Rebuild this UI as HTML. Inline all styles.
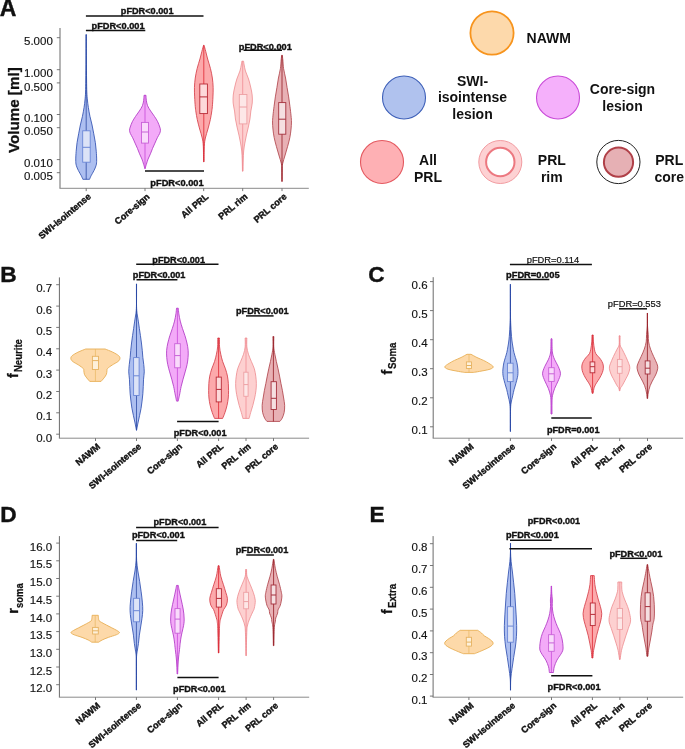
<!DOCTYPE html>
<html><head><meta charset="utf-8"><title>Figure</title>
<style>
html,body{margin:0;padding:0;background:#fff;}
body{width:685px;height:749px;overflow:hidden;}
svg{display:block;filter:blur(0.3px);}
svg text{font-family:'Liberation Sans', Arial, Helvetica, sans-serif;fill:#111;}
</style></head><body>
<svg width="685" height="749" viewBox="0 0 685 749">
<rect width="685" height="749" fill="#fff"/>
<text x="-0.3" y="15.8" font-size="23" font-weight="bold" text-anchor="start" stroke="#111" stroke-width="0.4">A</text>
<line x1="60" y1="28" x2="60" y2="188.3" stroke="#6a6a6a" stroke-width="1"/>
<line x1="59.5" y1="188.3" x2="308.8" y2="188.3" stroke="#8a8a8a" stroke-width="1"/>
<line x1="56.8" y1="37.7" x2="60" y2="37.7" stroke="#6a6a6a" stroke-width="0.9"/>
<text x="52.8" y="45.3" font-size="11.5" text-anchor="end" fill="#161616" stroke="#161616" stroke-width="0.15">5.000</text>
<line x1="56.8" y1="69.7" x2="60" y2="69.7" stroke="#6a6a6a" stroke-width="0.9"/>
<text x="52.8" y="77.3" font-size="11.5" text-anchor="end" fill="#161616" stroke="#161616" stroke-width="0.15">1.000</text>
<line x1="56.8" y1="82.9" x2="60" y2="82.9" stroke="#6a6a6a" stroke-width="0.9"/>
<text x="52.8" y="90.5" font-size="11.5" text-anchor="end" fill="#161616" stroke="#161616" stroke-width="0.15">0.500</text>
<line x1="56.8" y1="114.5" x2="60" y2="114.5" stroke="#6a6a6a" stroke-width="0.9"/>
<text x="52.8" y="122.1" font-size="11.5" text-anchor="end" fill="#161616" stroke="#161616" stroke-width="0.15">0.100</text>
<line x1="56.8" y1="127.7" x2="60" y2="127.7" stroke="#6a6a6a" stroke-width="0.9"/>
<text x="52.8" y="135.3" font-size="11.5" text-anchor="end" fill="#161616" stroke="#161616" stroke-width="0.15">0.050</text>
<line x1="56.8" y1="159.6" x2="60" y2="159.6" stroke="#6a6a6a" stroke-width="0.9"/>
<text x="52.8" y="167.2" font-size="11.5" text-anchor="end" fill="#161616" stroke="#161616" stroke-width="0.15">0.010</text>
<line x1="56.8" y1="172.7" x2="60" y2="172.7" stroke="#6a6a6a" stroke-width="0.9"/>
<text x="52.8" y="180.3" font-size="11.5" text-anchor="end" fill="#161616" stroke="#161616" stroke-width="0.15">0.005</text>
<line x1="86.2" y1="188.3" x2="86.2" y2="191.1" stroke="#6a6a6a" stroke-width="0.9"/>
<line x1="145" y1="188.3" x2="145" y2="191.1" stroke="#6a6a6a" stroke-width="0.9"/>
<line x1="203.7" y1="188.3" x2="203.7" y2="191.1" stroke="#6a6a6a" stroke-width="0.9"/>
<line x1="242.7" y1="188.3" x2="242.7" y2="191.1" stroke="#6a6a6a" stroke-width="0.9"/>
<line x1="282" y1="188.3" x2="282" y2="191.1" stroke="#6a6a6a" stroke-width="0.9"/>
<text x="91.6" y="197.6" font-size="9.1" font-weight="bold" stroke="#111" stroke-width="0.4" text-anchor="end" transform="rotate(-40 91.6 197.6)">SWI-isointense</text>
<text x="150.4" y="197.6" font-size="9.1" font-weight="bold" stroke="#111" stroke-width="0.4" text-anchor="end" transform="rotate(-40 150.4 197.6)">Core-sign</text>
<text x="209.1" y="197.6" font-size="9.1" font-weight="bold" stroke="#111" stroke-width="0.4" text-anchor="end" transform="rotate(-40 209.1 197.6)">All PRL</text>
<text x="248.1" y="197.6" font-size="9.1" font-weight="bold" stroke="#111" stroke-width="0.4" text-anchor="end" transform="rotate(-40 248.1 197.6)">PRL rim</text>
<text x="287.4" y="197.6" font-size="9.1" font-weight="bold" stroke="#111" stroke-width="0.4" text-anchor="end" transform="rotate(-40 287.4 197.6)">PRL core</text>
<text x="18.8" y="110.2" font-size="15.2" font-weight="bold" stroke="#111" stroke-width="0.3" text-anchor="middle" transform="rotate(-90 18.8 110.2)">Volume [ml]</text>
<path d="M86.15 34.5 L86.25 34.5 C86.25 36.25 86.23 40.75 86.25 45 C86.27 49.25 86.3 54.17 86.35 60 C86.4 65.83 86.49 74.67 86.57 80 C86.65 85.33 86.67 88.67 86.81 92 C86.95 95.33 87.15 97.42 87.41 100 C87.67 102.58 87.93 104.78 88.35 107.5 C88.77 110.22 89.33 113.38 89.95 116.3 C90.57 119.22 91.42 122.08 92.05 125 C92.68 127.92 93.2 130.87 93.75 133.8 C94.3 136.73 94.93 139.68 95.35 142.6 C95.77 145.52 96.03 148.4 96.25 151.3 C96.47 154.2 96.67 157.67 96.65 160 C96.63 162.33 96.6 163.53 96.15 165.3 C95.7 167.07 94.8 168.85 93.95 170.6 C93.1 172.35 91.78 174.35 91.05 175.8 C90.32 177.25 89.8 178.72 89.55 179.3 L82.85 179.3 C82.6 178.72 82.08 177.25 81.35 175.8 C80.62 174.35 79.3 172.35 78.45 170.6 C77.6 168.85 76.7 167.07 76.25 165.3 C75.8 163.53 75.77 162.33 75.75 160 C75.73 157.67 75.93 154.2 76.15 151.3 C76.37 148.4 76.63 145.52 77.05 142.6 C77.47 139.68 78.1 136.73 78.65 133.8 C79.2 130.87 79.72 127.92 80.35 125 C80.98 122.08 81.83 119.22 82.45 116.3 C83.07 113.38 83.63 110.22 84.05 107.5 C84.47 104.78 84.73 102.58 84.99 100 C85.25 97.42 85.45 95.33 85.59 92 C85.73 88.67 85.75 85.33 85.83 80 C85.91 74.67 86 65.83 86.05 60 C86.1 54.17 86.13 49.25 86.15 45 C86.17 40.75 86.15 36.25 86.15 34.5 Z" fill="#adbff0" stroke="#3050b0" stroke-width="0.85" stroke-linejoin="round"/>
<line x1="86.2" y1="34.5" x2="86.2" y2="179.3" stroke="#2644a0" stroke-width="0.75"/>
<rect x="82.7" y="130.8" width="7.5" height="31.4" fill="#dce3f7" stroke="#6a86d6" stroke-width="0.9"/>
<line x1="82.7" y1="147.3" x2="90.2" y2="147.3" stroke="#6a86d6" stroke-width="1"/>
<path d="M144.03 95.3 L145.97 95.3 C146.03 96.13 146.07 98.57 146.33 100.3 C146.59 102.03 146.83 103.92 147.55 105.7 C148.27 107.48 149.5 109.22 150.65 111 C151.8 112.78 153.28 114.62 154.45 116.4 C155.62 118.18 156.77 119.93 157.65 121.7 C158.53 123.47 159.28 125.57 159.75 127 C160.22 128.43 160.47 129.22 160.45 130.3 C160.43 131.38 160.17 132.27 159.65 133.5 C159.13 134.73 158.13 136.1 157.35 137.7 C156.57 139.3 155.75 141.32 154.95 143.1 C154.15 144.88 153.3 146.62 152.55 148.4 C151.8 150.18 151.2 152.02 150.45 153.8 C149.7 155.58 148.74 157.33 148.05 159.1 C147.36 160.87 146.83 162.8 146.33 164.4 C145.83 166 145.26 167.98 145.05 168.7 L144.95 168.7 C144.74 167.98 144.17 166 143.67 164.4 C143.17 162.8 142.64 160.87 141.95 159.1 C141.26 157.33 140.3 155.58 139.55 153.8 C138.8 152.02 138.2 150.18 137.45 148.4 C136.7 146.62 135.85 144.88 135.05 143.1 C134.25 141.32 133.43 139.3 132.65 137.7 C131.87 136.1 130.87 134.73 130.35 133.5 C129.83 132.27 129.57 131.38 129.55 130.3 C129.53 129.22 129.78 128.43 130.25 127 C130.72 125.57 131.47 123.47 132.35 121.7 C133.23 119.93 134.38 118.18 135.55 116.4 C136.72 114.62 138.2 112.78 139.35 111 C140.5 109.22 141.73 107.48 142.45 105.7 C143.17 103.92 143.41 102.03 143.67 100.3 C143.93 98.57 143.97 96.13 144.03 95.3 Z" fill="#f3aaf8" stroke="#b038c4" stroke-width="0.85" stroke-linejoin="round"/>
<line x1="145" y1="95.3" x2="145" y2="168.7" stroke="#c444d6" stroke-width="0.75"/>
<rect x="141.5" y="122.4" width="7" height="20.7" fill="#f9dafb" stroke="#c860d8" stroke-width="0.9"/>
<line x1="141.5" y1="132" x2="148.5" y2="132" stroke="#c860d8" stroke-width="1"/>
<path d="M203.55 45.3 L204.05 45.3 C204.33 46.32 205.13 49.12 205.73 51.4 C206.33 53.68 206.86 56.15 207.65 59 C208.44 61.85 209.67 65.33 210.45 68.5 C211.23 71.67 211.9 74.85 212.35 78 C212.8 81.15 213.05 84.25 213.15 87.4 C213.25 90.55 213.08 93.73 212.95 96.9 C212.82 100.07 212.57 103.88 212.35 106.4 C212.13 108.92 211.98 109.82 211.65 112 C211.32 114.18 210.97 116.67 210.35 119.5 C209.73 122.33 208.78 125.92 207.95 129 C207.12 132.08 205.98 135.12 205.37 138 C204.76 140.88 204.51 142.33 204.29 146.3 C204.07 150.27 204.09 159.22 204.05 161.8 L203.55 161.8 C203.51 159.22 203.53 150.27 203.31 146.3 C203.09 142.33 202.84 140.88 202.23 138 C201.62 135.12 200.48 132.08 199.65 129 C198.82 125.92 197.87 122.33 197.25 119.5 C196.63 116.67 196.28 114.18 195.95 112 C195.62 109.82 195.47 108.92 195.25 106.4 C195.03 103.88 194.78 100.07 194.65 96.9 C194.52 93.73 194.35 90.55 194.45 87.4 C194.55 84.25 194.8 81.15 195.25 78 C195.7 74.85 196.37 71.67 197.15 68.5 C197.93 65.33 199.16 61.85 199.95 59 C200.74 56.15 201.27 53.68 201.87 51.4 C202.47 49.12 203.27 46.32 203.55 45.3 Z" fill="#fca9ab" stroke="#d63f49" stroke-width="0.85" stroke-linejoin="round"/>
<line x1="203.8" y1="45.3" x2="203.8" y2="161.8" stroke="#dc1c2a" stroke-width="0.75"/>
<rect x="199.8" y="84" width="7.6" height="29.6" fill="#fdd9da" stroke="#b82a36" stroke-width="0.9"/>
<line x1="199.8" y1="96.9" x2="207.4" y2="96.9" stroke="#b82a36" stroke-width="1"/>
<path d="M241.85 61.2 L243.55 61.2 C243.65 61.83 243.83 63.37 244.15 65 C244.47 66.63 244.72 68.67 245.45 71 C246.18 73.33 247.68 76.33 248.55 79 C249.42 81.67 250.05 84.33 250.65 87 C251.25 89.67 251.88 92.33 252.15 95 C252.42 97.67 252.47 100.33 252.25 103 C252.03 105.67 251.23 108.33 250.85 111 C250.47 113.67 250.37 116.33 249.95 119 C249.53 121.67 248.93 124.33 248.35 127 C247.77 129.67 247.03 132.33 246.45 135 C245.87 137.67 245.31 140.33 244.85 143 C244.39 145.67 243.95 148.17 243.67 151 C243.39 153.83 243.31 156.63 243.19 160 C243.07 163.37 242.99 169.33 242.95 171.2 L242.45 171.2 C242.41 169.33 242.33 163.37 242.21 160 C242.09 156.63 242.01 153.83 241.73 151 C241.45 148.17 241.01 145.67 240.55 143 C240.09 140.33 239.53 137.67 238.95 135 C238.37 132.33 237.63 129.67 237.05 127 C236.47 124.33 235.87 121.67 235.45 119 C235.03 116.33 234.93 113.67 234.55 111 C234.17 108.33 233.37 105.67 233.15 103 C232.93 100.33 232.98 97.67 233.25 95 C233.52 92.33 234.15 89.67 234.75 87 C235.35 84.33 235.98 81.67 236.85 79 C237.72 76.33 239.22 73.33 239.95 71 C240.68 68.67 240.93 66.63 241.25 65 C241.57 63.37 241.75 61.83 241.85 61.2 Z" fill="#fdd0d0" stroke="#ee9094" stroke-width="0.85" stroke-linejoin="round"/>
<line x1="242.7" y1="61.2" x2="242.7" y2="171.2" stroke="#f08890" stroke-width="0.75"/>
<rect x="239.3" y="94.5" width="7.6" height="29.4" fill="#fde7e7" stroke="#eda0a4" stroke-width="0.9"/>
<line x1="239.3" y1="107" x2="246.9" y2="107" stroke="#eda0a4" stroke-width="1"/>
<path d="M281.75 55.2 L282.25 55.2 C282.35 56 282.63 57.78 282.85 60 C283.07 62.22 283.12 65.5 283.57 68.5 C284.02 71.5 284.97 74.85 285.55 78 C286.13 81.15 286.53 84.25 287.05 87.4 C287.57 90.55 288.17 93.73 288.65 96.9 C289.13 100.07 289.55 103.23 289.95 106.4 C290.35 109.57 290.8 113.3 291.05 115.9 C291.3 118.5 291.45 119.82 291.45 122 C291.45 124.18 291.32 126.42 291.05 129 C290.78 131.58 290.42 134.62 289.85 137.5 C289.28 140.38 288.43 143.38 287.65 146.3 C286.87 149.22 285.99 152.08 285.15 155 C284.31 157.92 283.09 161.3 282.61 163.8 C282.13 166.3 282.33 167.05 282.25 170 C282.17 172.95 282.17 179.58 282.15 181.5 L281.85 181.5 C281.83 179.58 281.83 172.95 281.75 170 C281.67 167.05 281.87 166.3 281.39 163.8 C280.91 161.3 279.69 157.92 278.85 155 C278.01 152.08 277.13 149.22 276.35 146.3 C275.57 143.38 274.72 140.38 274.15 137.5 C273.58 134.62 273.22 131.58 272.95 129 C272.68 126.42 272.55 124.18 272.55 122 C272.55 119.82 272.7 118.5 272.95 115.9 C273.2 113.3 273.65 109.57 274.05 106.4 C274.45 103.23 274.87 100.07 275.35 96.9 C275.83 93.73 276.43 90.55 276.95 87.4 C277.47 84.25 277.87 81.15 278.45 78 C279.03 74.85 279.98 71.5 280.43 68.5 C280.88 65.5 280.93 62.22 281.15 60 C281.37 57.78 281.65 56 281.75 55.2 Z" fill="#e8b1b5" stroke="#b0444c" stroke-width="0.85" stroke-linejoin="round"/>
<line x1="282" y1="55.2" x2="282" y2="181.5" stroke="#8e1018" stroke-width="0.75"/>
<rect x="278.7" y="102.6" width="7.1" height="31.6" fill="#f5dfe1" stroke="#a4303c" stroke-width="0.9"/>
<line x1="278.7" y1="119.2" x2="285.8" y2="119.2" stroke="#a4303c" stroke-width="1"/>
<line x1="85.9" y1="16" x2="203.5" y2="16" stroke="#111111" stroke-width="1.5"/>
<text x="120.8" y="14.4" font-size="8.7" font-weight="bold" stroke="#111" stroke-width="0.35" textLength="52.7" lengthAdjust="spacingAndGlyphs">pFDR&lt;0.001</text>
<line x1="85.9" y1="30.6" x2="145.3" y2="30.6" stroke="#111111" stroke-width="1.5"/>
<text x="91.5" y="28.9" font-size="8.7" font-weight="bold" stroke="#111" stroke-width="0.35" textLength="53.1" lengthAdjust="spacingAndGlyphs">pFDR&lt;0.001</text>
<line x1="243.5" y1="50.2" x2="282" y2="50.2" stroke="#111111" stroke-width="1.5"/>
<text x="238.8" y="49.5" font-size="8.7" font-weight="bold" stroke="#111" stroke-width="0.35" textLength="53" lengthAdjust="spacingAndGlyphs">pFDR&lt;0.001</text>
<line x1="145" y1="170.9" x2="204" y2="170.9" stroke="#111111" stroke-width="1.5"/>
<text x="150.3" y="185.5" font-size="8.7" font-weight="bold" stroke="#111" stroke-width="0.35" textLength="53.4" lengthAdjust="spacingAndGlyphs">pFDR&lt;0.001</text>
<circle cx="492" cy="33" r="21.6" fill="#fdd9ab" stroke="#f7941d" stroke-width="1.8"/>
<text x="526.6" y="43.3" font-size="14" font-weight="bold" text-anchor="start">NAWM</text>
<circle cx="404" cy="97.5" r="21.5" fill="#b0c2ee" stroke="#3d5fb8" stroke-width="1.1"/>
<text x="472.5" y="85.8" font-size="14" font-weight="bold" text-anchor="middle">SWI-</text>
<text x="472.5" y="102.3" font-size="14" font-weight="bold" text-anchor="middle">isointense</text>
<text x="472.5" y="119" font-size="14" font-weight="bold" text-anchor="middle">lesion</text>
<circle cx="558" cy="97.5" r="21.5" fill="#f5b0fb" stroke="#c94ad8" stroke-width="1.1"/>
<text x="622.5" y="94.4" font-size="14" font-weight="bold" text-anchor="middle">Core-sign</text>
<text x="622.5" y="110.8" font-size="14" font-weight="bold" text-anchor="middle">lesion</text>
<circle cx="382" cy="162" r="21.5" fill="#feb0b4" stroke="#e4585f" stroke-width="1.1"/>
<text x="428" y="165" font-size="14" font-weight="bold" text-anchor="middle">All</text>
<text x="428" y="181.9" font-size="14" font-weight="bold" text-anchor="middle">PRL</text>
<circle cx="500.3" cy="162" r="21.5" fill="#fdd1d3" stroke="#f29ba0" stroke-width="1"/>
<circle cx="500.3" cy="162" r="14.2" fill="#ffffff" stroke="#ec7880" stroke-width="2"/>
<text x="551.8" y="165" font-size="14" font-weight="bold" text-anchor="middle">PRL</text>
<text x="551.8" y="181.9" font-size="14" font-weight="bold" text-anchor="middle">rim</text>
<circle cx="618.4" cy="162" r="21.6" fill="#ffffff" stroke="#222222" stroke-width="1"/>
<circle cx="618.5" cy="162.2" r="14.6" fill="#e6b0b4" stroke="#b04048" stroke-width="2"/>
<text x="669.2" y="165" font-size="14" font-weight="bold" text-anchor="middle">PRL</text>
<text x="669.2" y="182" font-size="14" font-weight="bold" text-anchor="middle">core</text>
<text x="0.3" y="281.9" font-size="22.7" font-weight="bold" text-anchor="start" stroke="#111" stroke-width="0.4">B</text>
<line x1="59.4" y1="277.4" x2="59.4" y2="438.2" stroke="#6a6a6a" stroke-width="1"/>
<line x1="58.9" y1="438.2" x2="309.1" y2="438.2" stroke="#8a8a8a" stroke-width="1"/>
<line x1="56.2" y1="284.7" x2="59.4" y2="284.7" stroke="#6a6a6a" stroke-width="0.9"/>
<text x="52.2" y="292.3" font-size="11.5" text-anchor="end" fill="#161616" stroke="#161616" stroke-width="0.15">0.7</text>
<line x1="56.2" y1="306.1" x2="59.4" y2="306.1" stroke="#6a6a6a" stroke-width="0.9"/>
<text x="52.2" y="313.7" font-size="11.5" text-anchor="end" fill="#161616" stroke="#161616" stroke-width="0.15">0.6</text>
<line x1="56.2" y1="327.4" x2="59.4" y2="327.4" stroke="#6a6a6a" stroke-width="0.9"/>
<text x="52.2" y="335" font-size="11.5" text-anchor="end" fill="#161616" stroke="#161616" stroke-width="0.15">0.5</text>
<line x1="56.2" y1="348.8" x2="59.4" y2="348.8" stroke="#6a6a6a" stroke-width="0.9"/>
<text x="52.2" y="356.4" font-size="11.5" text-anchor="end" fill="#161616" stroke="#161616" stroke-width="0.15">0.4</text>
<line x1="56.2" y1="370.1" x2="59.4" y2="370.1" stroke="#6a6a6a" stroke-width="0.9"/>
<text x="52.2" y="377.7" font-size="11.5" text-anchor="end" fill="#161616" stroke="#161616" stroke-width="0.15">0.3</text>
<line x1="56.2" y1="391.5" x2="59.4" y2="391.5" stroke="#6a6a6a" stroke-width="0.9"/>
<text x="52.2" y="399.1" font-size="11.5" text-anchor="end" fill="#161616" stroke="#161616" stroke-width="0.15">0.2</text>
<line x1="56.2" y1="412.8" x2="59.4" y2="412.8" stroke="#6a6a6a" stroke-width="0.9"/>
<text x="52.2" y="420.4" font-size="11.5" text-anchor="end" fill="#161616" stroke="#161616" stroke-width="0.15">0.1</text>
<line x1="56.2" y1="434.2" x2="59.4" y2="434.2" stroke="#6a6a6a" stroke-width="0.9"/>
<text x="52.2" y="441.8" font-size="11.5" text-anchor="end" fill="#161616" stroke="#161616" stroke-width="0.15">0.0</text>
<line x1="95.5" y1="438.2" x2="95.5" y2="441" stroke="#6a6a6a" stroke-width="0.9"/>
<line x1="136.5" y1="438.2" x2="136.5" y2="441" stroke="#6a6a6a" stroke-width="0.9"/>
<line x1="177.4" y1="438.2" x2="177.4" y2="441" stroke="#6a6a6a" stroke-width="0.9"/>
<line x1="218.6" y1="438.2" x2="218.6" y2="441" stroke="#6a6a6a" stroke-width="0.9"/>
<line x1="246" y1="438.2" x2="246" y2="441" stroke="#6a6a6a" stroke-width="0.9"/>
<line x1="273.5" y1="438.2" x2="273.5" y2="441" stroke="#6a6a6a" stroke-width="0.9"/>
<text x="100.9" y="447.5" font-size="9.1" font-weight="bold" stroke="#111" stroke-width="0.4" text-anchor="end" transform="rotate(-40 100.9 447.5)">NAWM</text>
<text x="141.9" y="447.5" font-size="9.1" font-weight="bold" stroke="#111" stroke-width="0.4" text-anchor="end" transform="rotate(-40 141.9 447.5)">SWI-isointense</text>
<text x="182.8" y="447.5" font-size="9.1" font-weight="bold" stroke="#111" stroke-width="0.4" text-anchor="end" transform="rotate(-40 182.8 447.5)">Core-sign</text>
<text x="224" y="447.5" font-size="9.1" font-weight="bold" stroke="#111" stroke-width="0.4" text-anchor="end" transform="rotate(-40 224 447.5)">All PRL</text>
<text x="251.4" y="447.5" font-size="9.1" font-weight="bold" stroke="#111" stroke-width="0.4" text-anchor="end" transform="rotate(-40 251.4 447.5)">PRL rim</text>
<text x="278.9" y="447.5" font-size="9.1" font-weight="bold" stroke="#111" stroke-width="0.4" text-anchor="end" transform="rotate(-40 278.9 447.5)">PRL core</text>
<text transform="translate(18.3 378) rotate(-90)" font-size="14.5" font-weight="bold" stroke="#111" stroke-width="0.3">f</text>
<text transform="translate(22.4 372.1) rotate(-90)" font-size="11" font-weight="bold" stroke="#111" stroke-width="0.25" textLength="33" lengthAdjust="spacingAndGlyphs">Neurite</text>
<path d="M85.65 349 L105.15 349 C106.43 349.53 110.6 351.08 112.85 352.2 C115.1 353.32 117.47 354.63 118.65 355.7 C119.83 356.77 120.05 357.63 119.95 358.6 C119.85 359.57 119.33 360.43 118.05 361.5 C116.77 362.57 114 363.83 112.25 365 C110.5 366.17 108.43 367.52 107.55 368.5 C106.67 369.48 107.15 369.92 106.95 370.9 C106.75 371.88 106.83 373.23 106.35 374.4 C105.87 375.57 104.93 376.73 104.05 377.9 C103.17 379.07 101.55 380.82 101.05 381.4 L89.75 381.4 C89.25 380.82 87.63 379.07 86.75 377.9 C85.87 376.73 84.93 375.57 84.45 374.4 C83.97 373.23 84.05 371.88 83.85 370.9 C83.65 369.92 84.13 369.48 83.25 368.5 C82.37 367.52 80.3 366.17 78.55 365 C76.8 363.83 74.03 362.57 72.75 361.5 C71.47 360.43 70.95 359.57 70.85 358.6 C70.75 357.63 70.97 356.77 72.15 355.7 C73.33 354.63 75.7 353.32 77.95 352.2 C80.2 351.08 84.37 349.53 85.65 349 Z" fill="#fdd9a9" stroke="#e6ab4e" stroke-width="0.85" stroke-linejoin="round"/>
<line x1="95.4" y1="349" x2="95.4" y2="381.4" stroke="#eab866" stroke-width="0.75"/>
<rect x="92.4" y="356.3" width="6.1" height="13.2" fill="#fdf0da" stroke="#e6b262" stroke-width="0.9"/>
<line x1="92.4" y1="360.6" x2="98.5" y2="360.6" stroke="#e6b262" stroke-width="1"/>
<path d="M136.45 283.9 L136.55 283.9 C136.55 285.75 136.55 291.23 136.55 295 C136.55 298.77 136.46 303.37 136.55 306.5 C136.64 309.63 136.82 311.37 137.11 313.8 C137.4 316.23 137.94 318.67 138.31 321.1 C138.68 323.53 138.99 325.97 139.35 328.4 C139.71 330.83 140.1 333.27 140.45 335.7 C140.8 338.13 141.15 340.57 141.45 343 C141.75 345.43 142.02 347.88 142.25 350.3 C142.48 352.72 142.6 355.12 142.85 357.5 C143.1 359.88 143.52 362.2 143.75 364.6 C143.98 367 144.28 369.47 144.25 371.9 C144.22 374.33 143.72 376.77 143.55 379.2 C143.38 381.63 143.37 384.07 143.25 386.5 C143.13 388.93 143.05 391.37 142.85 393.8 C142.65 396.23 142.35 398.67 142.05 401.1 C141.75 403.53 141.47 405.97 141.05 408.4 C140.63 410.83 140.07 413.27 139.55 415.7 C139.03 418.13 138.45 420.57 137.95 423 C137.45 425.43 136.78 429.08 136.55 430.3 L136.45 430.3 C136.22 429.08 135.55 425.43 135.05 423 C134.55 420.57 133.97 418.13 133.45 415.7 C132.93 413.27 132.37 410.83 131.95 408.4 C131.53 405.97 131.25 403.53 130.95 401.1 C130.65 398.67 130.35 396.23 130.15 393.8 C129.95 391.37 129.87 388.93 129.75 386.5 C129.63 384.07 129.62 381.63 129.45 379.2 C129.28 376.77 128.78 374.33 128.75 371.9 C128.72 369.47 129.02 367 129.25 364.6 C129.48 362.2 129.9 359.88 130.15 357.5 C130.4 355.12 130.52 352.72 130.75 350.3 C130.98 347.88 131.25 345.43 131.55 343 C131.85 340.57 132.2 338.13 132.55 335.7 C132.9 333.27 133.29 330.83 133.65 328.4 C134.01 325.97 134.32 323.53 134.69 321.1 C135.06 318.67 135.6 316.23 135.89 313.8 C136.18 311.37 136.36 309.63 136.45 306.5 C136.54 303.37 136.45 298.77 136.45 295 C136.45 291.23 136.45 285.75 136.45 283.9 Z" fill="#adbff0" stroke="#3050b0" stroke-width="0.85" stroke-linejoin="round"/>
<line x1="136.5" y1="283.9" x2="136.5" y2="430.3" stroke="#2644a0" stroke-width="0.75"/>
<rect x="133.6" y="357.6" width="5.5" height="37.9" fill="#dce3f7" stroke="#6a86d6" stroke-width="0.9"/>
<line x1="133.6" y1="375.8" x2="139.1" y2="375.8" stroke="#6a86d6" stroke-width="1"/>
<path d="M176.55 308.2 L178.25 308.2 C178.35 309.13 178.52 311.65 178.85 313.8 C179.18 315.95 179.65 318.67 180.25 321.1 C180.85 323.53 181.67 325.97 182.45 328.4 C183.23 330.83 184.2 333.27 184.95 335.7 C185.7 338.13 186.42 340.57 186.95 343 C187.48 345.43 187.97 347.88 188.15 350.3 C188.33 352.72 188.23 355.12 188.05 357.5 C187.87 359.88 187.53 362.2 187.05 364.6 C186.57 367 185.82 369.47 185.15 371.9 C184.48 374.33 183.72 376.77 183.05 379.2 C182.38 381.63 181.7 384.07 181.15 386.5 C180.6 388.93 180.13 391.88 179.75 393.8 C179.37 395.72 179.1 396.78 178.85 398 C178.6 399.22 178.35 400.58 178.25 401.1 L176.55 401.1 C176.45 400.58 176.2 399.22 175.95 398 C175.7 396.78 175.43 395.72 175.05 393.8 C174.67 391.88 174.2 388.93 173.65 386.5 C173.1 384.07 172.42 381.63 171.75 379.2 C171.08 376.77 170.32 374.33 169.65 371.9 C168.98 369.47 168.23 367 167.75 364.6 C167.27 362.2 166.93 359.88 166.75 357.5 C166.57 355.12 166.47 352.72 166.65 350.3 C166.83 347.88 167.32 345.43 167.85 343 C168.38 340.57 169.1 338.13 169.85 335.7 C170.6 333.27 171.57 330.83 172.35 328.4 C173.13 325.97 173.95 323.53 174.55 321.1 C175.15 318.67 175.62 315.95 175.95 313.8 C176.28 311.65 176.45 309.13 176.55 308.2 Z" fill="#f3aaf8" stroke="#b038c4" stroke-width="0.85" stroke-linejoin="round"/>
<line x1="177.4" y1="308.2" x2="177.4" y2="401.1" stroke="#c444d6" stroke-width="0.75"/>
<rect x="174.7" y="343.7" width="5.6" height="24.1" fill="#f9dafb" stroke="#c860d8" stroke-width="0.9"/>
<line x1="174.7" y1="355.6" x2="180.3" y2="355.6" stroke="#c860d8" stroke-width="1"/>
<path d="M217.75 338 L219.45 338 C219.47 339.48 219.35 344.2 219.57 346.9 C219.79 349.6 220.24 351.77 220.75 354.2 C221.26 356.63 221.87 359.07 222.65 361.5 C223.43 363.93 224.65 366.37 225.45 368.8 C226.25 371.23 226.97 373.67 227.45 376.1 C227.93 378.53 228.17 380.97 228.35 383.4 C228.53 385.83 228.57 388.27 228.55 390.7 C228.53 393.13 228.5 395.57 228.25 398 C228 400.43 227.6 402.87 227.05 405.3 C226.5 407.73 225.68 410.42 224.95 412.6 C224.22 414.78 223.03 417.43 222.65 418.4 L214.55 418.4 C214.17 417.43 212.98 414.78 212.25 412.6 C211.52 410.42 210.7 407.73 210.15 405.3 C209.6 402.87 209.2 400.43 208.95 398 C208.7 395.57 208.67 393.13 208.65 390.7 C208.63 388.27 208.67 385.83 208.85 383.4 C209.03 380.97 209.27 378.53 209.75 376.1 C210.23 373.67 210.95 371.23 211.75 368.8 C212.55 366.37 213.77 363.93 214.55 361.5 C215.33 359.07 215.94 356.63 216.45 354.2 C216.96 351.77 217.41 349.6 217.63 346.9 C217.85 344.2 217.73 339.48 217.75 338 Z" fill="#fca9ab" stroke="#d63f49" stroke-width="0.85" stroke-linejoin="round"/>
<line x1="218.6" y1="338" x2="218.6" y2="418.4" stroke="#dc1c2a" stroke-width="0.75"/>
<rect x="216.2" y="377.1" width="5.1" height="24.8" fill="#fdd9da" stroke="#b82a36" stroke-width="0.9"/>
<line x1="216.2" y1="389.4" x2="221.3" y2="389.4" stroke="#b82a36" stroke-width="1"/>
<path d="M245.15 338 L246.85 338 C246.85 339.48 246.58 344.2 246.85 346.9 C247.12 349.6 247.7 351.77 248.45 354.2 C249.2 356.63 250.37 359.07 251.35 361.5 C252.33 363.93 253.62 366.37 254.35 368.8 C255.08 371.23 255.42 373.67 255.75 376.1 C256.08 378.53 256.32 380.97 256.35 383.4 C256.38 385.83 256.23 388.27 255.95 390.7 C255.67 393.13 255.17 395.57 254.65 398 C254.13 400.43 253.52 402.87 252.85 405.3 C252.18 407.73 251.27 410.42 250.65 412.6 C250.03 414.78 249.4 417.43 249.15 418.4 L242.85 418.4 C242.6 417.43 241.97 414.78 241.35 412.6 C240.73 410.42 239.82 407.73 239.15 405.3 C238.48 402.87 237.87 400.43 237.35 398 C236.83 395.57 236.33 393.13 236.05 390.7 C235.77 388.27 235.62 385.83 235.65 383.4 C235.68 380.97 235.92 378.53 236.25 376.1 C236.58 373.67 236.92 371.23 237.65 368.8 C238.38 366.37 239.67 363.93 240.65 361.5 C241.63 359.07 242.8 356.63 243.55 354.2 C244.3 351.77 244.88 349.6 245.15 346.9 C245.42 344.2 245.15 339.48 245.15 338 Z" fill="#fdd0d0" stroke="#ee9094" stroke-width="0.85" stroke-linejoin="round"/>
<line x1="246" y1="338" x2="246" y2="418.4" stroke="#f08890" stroke-width="0.75"/>
<rect x="243.8" y="372.2" width="4.3" height="24.1" fill="#fde7e7" stroke="#eda0a4" stroke-width="0.9"/>
<line x1="243.8" y1="384.6" x2="248.1" y2="384.6" stroke="#eda0a4" stroke-width="1"/>
<path d="M272.91 336.5 L273.89 336.5 C273.87 338.23 273.61 343.95 273.77 346.9 C273.93 349.85 274.42 351.77 274.85 354.2 C275.28 356.63 275.82 359.07 276.35 361.5 C276.88 363.93 277.52 366.37 278.05 368.8 C278.58 371.23 279.07 373.67 279.55 376.1 C280.03 378.53 280.47 380.97 280.95 383.4 C281.43 385.83 282 388.27 282.45 390.7 C282.9 393.13 283.28 395.57 283.65 398 C284.02 400.43 284.57 402.87 284.65 405.3 C284.73 407.73 284.58 410.42 284.15 412.6 C283.72 414.78 282.77 416.93 282.05 418.4 C281.33 419.87 280.22 420.9 279.85 421.4 L266.95 421.4 C266.58 420.9 265.47 419.87 264.75 418.4 C264.03 416.93 263.08 414.78 262.65 412.6 C262.22 410.42 262.07 407.73 262.15 405.3 C262.23 402.87 262.78 400.43 263.15 398 C263.52 395.57 263.9 393.13 264.35 390.7 C264.8 388.27 265.37 385.83 265.85 383.4 C266.33 380.97 266.77 378.53 267.25 376.1 C267.73 373.67 268.22 371.23 268.75 368.8 C269.28 366.37 269.92 363.93 270.45 361.5 C270.98 359.07 271.52 356.63 271.95 354.2 C272.38 351.77 272.87 349.85 273.03 346.9 C273.19 343.95 272.93 338.23 272.91 336.5 Z" fill="#e8b1b5" stroke="#b0444c" stroke-width="0.85" stroke-linejoin="round"/>
<line x1="273.4" y1="336.5" x2="273.4" y2="421.4" stroke="#8e1018" stroke-width="0.75"/>
<rect x="271.1" y="381.7" width="5.3" height="27.8" fill="#f5dfe1" stroke="#a4303c" stroke-width="0.9"/>
<line x1="271.1" y1="398.3" x2="276.4" y2="398.3" stroke="#a4303c" stroke-width="1"/>
<line x1="136.2" y1="264.3" x2="218.5" y2="264.3" stroke="#111111" stroke-width="1.5"/>
<text x="152.3" y="262.9" font-size="8.7" font-weight="bold" stroke="#111" stroke-width="0.35" textLength="52.7" lengthAdjust="spacingAndGlyphs">pFDR&lt;0.001</text>
<text x="132.8" y="278" font-size="8.7" font-weight="bold" stroke="#111" stroke-width="0.35" textLength="52.6" lengthAdjust="spacingAndGlyphs">pFDR&lt;0.001</text>
<line x1="136.5" y1="279.8" x2="177.4" y2="279.8" stroke="#111111" stroke-width="1.5"/>
<text x="236" y="314.1" font-size="8.7" font-weight="bold" stroke="#111" stroke-width="0.35" textLength="52.6" lengthAdjust="spacingAndGlyphs">pFDR&lt;0.001</text>
<line x1="246" y1="315.9" x2="273.6" y2="315.9" stroke="#111111" stroke-width="1.5"/>
<line x1="177.1" y1="421.5" x2="218.6" y2="421.5" stroke="#111111" stroke-width="1.5"/>
<text x="173.7" y="435.5" font-size="8.7" font-weight="bold" stroke="#111" stroke-width="0.35" textLength="52.9" lengthAdjust="spacingAndGlyphs">pFDR&lt;0.001</text>
<text x="368.3" y="282.4" font-size="22.7" font-weight="bold" text-anchor="start" stroke="#111" stroke-width="0.4">C</text>
<line x1="433.2" y1="277.2" x2="433.2" y2="438.2" stroke="#6a6a6a" stroke-width="1"/>
<line x1="432.7" y1="438.2" x2="683.1" y2="438.2" stroke="#8a8a8a" stroke-width="1"/>
<line x1="430" y1="281.6" x2="433.2" y2="281.6" stroke="#6a6a6a" stroke-width="0.9"/>
<text x="427.6" y="289.2" font-size="11.5" text-anchor="end" fill="#161616" stroke="#161616" stroke-width="0.15">0.6</text>
<line x1="430" y1="310.6" x2="433.2" y2="310.6" stroke="#6a6a6a" stroke-width="0.9"/>
<text x="427.6" y="318.2" font-size="11.5" text-anchor="end" fill="#161616" stroke="#161616" stroke-width="0.15">0.5</text>
<line x1="430" y1="339.7" x2="433.2" y2="339.7" stroke="#6a6a6a" stroke-width="0.9"/>
<text x="427.6" y="347.3" font-size="11.5" text-anchor="end" fill="#161616" stroke="#161616" stroke-width="0.15">0.4</text>
<line x1="430" y1="368.7" x2="433.2" y2="368.7" stroke="#6a6a6a" stroke-width="0.9"/>
<text x="427.6" y="376.3" font-size="11.5" text-anchor="end" fill="#161616" stroke="#161616" stroke-width="0.15">0.3</text>
<line x1="430" y1="397.8" x2="433.2" y2="397.8" stroke="#6a6a6a" stroke-width="0.9"/>
<text x="427.6" y="405.4" font-size="11.5" text-anchor="end" fill="#161616" stroke="#161616" stroke-width="0.15">0.2</text>
<line x1="430" y1="426.8" x2="433.2" y2="426.8" stroke="#6a6a6a" stroke-width="0.9"/>
<text x="427.6" y="434.4" font-size="11.5" text-anchor="end" fill="#161616" stroke="#161616" stroke-width="0.15">0.1</text>
<line x1="469" y1="438.2" x2="469" y2="441" stroke="#6a6a6a" stroke-width="0.9"/>
<line x1="510.4" y1="438.2" x2="510.4" y2="441" stroke="#6a6a6a" stroke-width="0.9"/>
<line x1="551.5" y1="438.2" x2="551.5" y2="441" stroke="#6a6a6a" stroke-width="0.9"/>
<line x1="592.6" y1="438.2" x2="592.6" y2="441" stroke="#6a6a6a" stroke-width="0.9"/>
<line x1="619.7" y1="438.2" x2="619.7" y2="441" stroke="#6a6a6a" stroke-width="0.9"/>
<line x1="647.5" y1="438.2" x2="647.5" y2="441" stroke="#6a6a6a" stroke-width="0.9"/>
<text x="474.4" y="447.5" font-size="9.1" font-weight="bold" stroke="#111" stroke-width="0.4" text-anchor="end" transform="rotate(-40 474.4 447.5)">NAWM</text>
<text x="515.8" y="447.5" font-size="9.1" font-weight="bold" stroke="#111" stroke-width="0.4" text-anchor="end" transform="rotate(-40 515.8 447.5)">SWI-isointense</text>
<text x="556.9" y="447.5" font-size="9.1" font-weight="bold" stroke="#111" stroke-width="0.4" text-anchor="end" transform="rotate(-40 556.9 447.5)">Core-sign</text>
<text x="598" y="447.5" font-size="9.1" font-weight="bold" stroke="#111" stroke-width="0.4" text-anchor="end" transform="rotate(-40 598 447.5)">All PRL</text>
<text x="625.1" y="447.5" font-size="9.1" font-weight="bold" stroke="#111" stroke-width="0.4" text-anchor="end" transform="rotate(-40 625.1 447.5)">PRL rim</text>
<text x="652.9" y="447.5" font-size="9.1" font-weight="bold" stroke="#111" stroke-width="0.4" text-anchor="end" transform="rotate(-40 652.9 447.5)">PRL core</text>
<text transform="translate(392 374.4) rotate(-90)" font-size="14.5" font-weight="bold" stroke="#111" stroke-width="0.3">f</text>
<text transform="translate(396.1 368.9) rotate(-90)" font-size="11" font-weight="bold" stroke="#111" stroke-width="0.25" textLength="26.4" lengthAdjust="spacingAndGlyphs">Soma</text>
<path d="M466.95 354.3 L471.05 354.3 C472.03 354.83 474.87 356.48 476.95 357.5 C479.03 358.52 481.55 359.42 483.55 360.4 C485.55 361.38 487.35 362.35 488.95 363.4 C490.55 364.45 492.97 365.73 493.15 366.7 C493.33 367.67 492.32 368.42 490.05 369.2 C487.78 369.98 482.3 370.87 479.55 371.4 C476.8 371.93 474.55 372.23 473.55 372.4 L464.45 372.4 C463.45 372.23 461.2 371.93 458.45 371.4 C455.7 370.87 450.22 369.98 447.95 369.2 C445.68 368.42 444.67 367.67 444.85 366.7 C445.03 365.73 447.45 364.45 449.05 363.4 C450.65 362.35 452.45 361.38 454.45 360.4 C456.45 359.42 458.97 358.52 461.05 357.5 C463.13 356.48 465.97 354.83 466.95 354.3 Z" fill="#fdd9a9" stroke="#e6ab4e" stroke-width="0.85" stroke-linejoin="round"/>
<line x1="469" y1="354.3" x2="469" y2="372.4" stroke="#eab866" stroke-width="0.75"/>
<rect x="466.4" y="361.9" width="5.1" height="6.6" fill="#fdf0da" stroke="#e6b262" stroke-width="0.9"/>
<line x1="466.4" y1="365.5" x2="471.5" y2="365.5" stroke="#e6b262" stroke-width="1"/>
<path d="M510.35 284.3 L510.45 284.3 C510.45 286.92 510.45 294.88 510.45 300 C510.45 305.12 510.4 310.83 510.45 315 C510.5 319.17 510.64 322 510.77 325 C510.9 328 511.07 330.5 511.25 333 C511.43 335.5 511.6 337.83 511.85 340 C512.1 342.17 512.4 343.93 512.75 346 C513.1 348.07 513.5 350.47 513.95 352.4 C514.4 354.33 514.95 355.87 515.45 357.6 C515.95 359.33 516.55 360.9 516.95 362.8 C517.35 364.7 517.68 367.22 517.85 369 C518.02 370.78 518.02 372.12 517.95 373.5 C517.88 374.88 517.8 375.63 517.45 377.3 C517.1 378.97 516.42 381.43 515.85 383.5 C515.28 385.57 514.58 387.63 514.05 389.7 C513.52 391.77 513.18 393.48 512.65 395.9 C512.12 398.32 511.26 401.08 510.89 404.2 C510.52 407.32 510.52 410.05 510.45 414.6 C510.38 419.15 510.45 428.68 510.45 431.5 L510.35 431.5 C510.35 428.68 510.42 419.15 510.35 414.6 C510.28 410.05 510.28 407.32 509.91 404.2 C509.54 401.08 508.68 398.32 508.15 395.9 C507.62 393.48 507.28 391.77 506.75 389.7 C506.22 387.63 505.52 385.57 504.95 383.5 C504.38 381.43 503.7 378.97 503.35 377.3 C503 375.63 502.92 374.88 502.85 373.5 C502.78 372.12 502.78 370.78 502.95 369 C503.12 367.22 503.45 364.7 503.85 362.8 C504.25 360.9 504.85 359.33 505.35 357.6 C505.85 355.87 506.4 354.33 506.85 352.4 C507.3 350.47 507.7 348.07 508.05 346 C508.4 343.93 508.7 342.17 508.95 340 C509.2 337.83 509.37 335.5 509.55 333 C509.73 330.5 509.9 328 510.03 325 C510.16 322 510.3 319.17 510.35 315 C510.4 310.83 510.35 305.12 510.35 300 C510.35 294.88 510.35 286.92 510.35 284.3 Z" fill="#adbff0" stroke="#3050b0" stroke-width="0.85" stroke-linejoin="round"/>
<line x1="510.4" y1="284.3" x2="510.4" y2="431.5" stroke="#2644a0" stroke-width="0.75"/>
<rect x="507.5" y="363.2" width="5.6" height="18.4" fill="#dce3f7" stroke="#6a86d6" stroke-width="0.9"/>
<line x1="507.5" y1="372.8" x2="513.1" y2="372.8" stroke="#6a86d6" stroke-width="1"/>
<path d="M551.01 338.8 L551.99 338.8 C552.05 340.98 551.94 348.5 552.35 351.9 C552.76 355.3 553.47 356.77 554.45 359.2 C555.43 361.63 557.25 364.07 558.25 366.5 C559.25 368.93 560.48 371.37 560.45 373.8 C560.42 376.23 559.02 378.67 558.05 381.1 C557.08 383.53 555.58 385.97 554.65 388.4 C553.72 390.83 552.91 393.27 552.47 395.7 C552.03 398.13 552.07 399.95 551.99 403 C551.91 406.05 551.99 412.17 551.99 414 L551.01 414 C551.01 412.17 551.09 406.05 551.01 403 C550.93 399.95 550.97 398.13 550.53 395.7 C550.09 393.27 549.28 390.83 548.35 388.4 C547.42 385.97 545.92 383.53 544.95 381.1 C543.98 378.67 542.58 376.23 542.55 373.8 C542.52 371.37 543.75 368.93 544.75 366.5 C545.75 364.07 547.57 361.63 548.55 359.2 C549.53 356.77 550.24 355.3 550.65 351.9 C551.06 348.5 550.95 340.98 551.01 338.8 Z" fill="#f3aaf8" stroke="#b038c4" stroke-width="0.85" stroke-linejoin="round"/>
<line x1="551.5" y1="338.8" x2="551.5" y2="414" stroke="#c444d6" stroke-width="0.75"/>
<rect x="548.7" y="367.7" width="5.5" height="13.7" fill="#f9dafb" stroke="#c860d8" stroke-width="0.9"/>
<line x1="548.7" y1="373.8" x2="554.2" y2="373.8" stroke="#c860d8" stroke-width="1"/>
<path d="M591.99 335 L593.21 335 C593.25 336.15 593.25 339.53 593.45 341.9 C593.65 344.27 594.03 347.25 594.41 349.2 C594.79 351.15 595.11 352.38 595.75 353.6 C596.39 354.82 597.43 355.53 598.25 356.5 C599.07 357.47 599.87 358.18 600.65 359.4 C601.43 360.62 602.5 362.33 602.95 363.8 C603.4 365.27 603.45 366.73 603.35 368.2 C603.25 369.67 603 370.9 602.35 372.6 C601.7 374.3 600.42 376.7 599.45 378.4 C598.48 380.1 597.41 381.33 596.55 382.8 C595.69 384.27 594.87 385.45 594.29 387.2 C593.71 388.95 593.29 392.28 593.09 393.3 L592.11 393.3 C591.91 392.28 591.49 388.95 590.91 387.2 C590.33 385.45 589.51 384.27 588.65 382.8 C587.79 381.33 586.72 380.1 585.75 378.4 C584.78 376.7 583.5 374.3 582.85 372.6 C582.2 370.9 581.95 369.67 581.85 368.2 C581.75 366.73 581.8 365.27 582.25 363.8 C582.7 362.33 583.77 360.62 584.55 359.4 C585.33 358.18 586.13 357.47 586.95 356.5 C587.77 355.53 588.81 354.82 589.45 353.6 C590.09 352.38 590.41 351.15 590.79 349.2 C591.17 347.25 591.55 344.27 591.75 341.9 C591.95 339.53 591.95 336.15 591.99 335 Z" fill="#fca9ab" stroke="#d63f49" stroke-width="0.85" stroke-linejoin="round"/>
<line x1="592.6" y1="335" x2="592.6" y2="393.3" stroke="#dc1c2a" stroke-width="0.75"/>
<rect x="590.1" y="361.9" width="4.7" height="10.9" fill="#fdd9da" stroke="#b82a36" stroke-width="0.9"/>
<line x1="590.1" y1="366.7" x2="594.8" y2="366.7" stroke="#b82a36" stroke-width="1"/>
<path d="M619.11 335.8 L620.09 335.8 C620.09 337.3 619.75 342.57 620.09 344.8 C620.43 347.03 621.21 347.25 622.15 349.2 C623.09 351.15 624.63 354.07 625.75 356.5 C626.87 358.93 628.17 361.85 628.85 363.8 C629.53 365.75 629.95 366.5 629.85 368.2 C629.75 369.9 628.88 372.3 628.25 374 C627.62 375.7 627.07 376.45 626.05 378.4 C625.03 380.35 623.08 384.1 622.15 385.7 C621.22 387.3 620.83 387.15 620.45 388 C620.07 388.85 619.95 390.33 619.85 390.8 L619.35 390.8 C619.25 390.33 619.13 388.85 618.75 388 C618.37 387.15 617.98 387.3 617.05 385.7 C616.12 384.1 614.17 380.35 613.15 378.4 C612.13 376.45 611.58 375.7 610.95 374 C610.32 372.3 609.45 369.9 609.35 368.2 C609.25 366.5 609.67 365.75 610.35 363.8 C611.03 361.85 612.33 358.93 613.45 356.5 C614.57 354.07 616.11 351.15 617.05 349.2 C617.99 347.25 618.77 347.03 619.11 344.8 C619.45 342.57 619.11 337.3 619.11 335.8 Z" fill="#fdd0d0" stroke="#ee9094" stroke-width="0.85" stroke-linejoin="round"/>
<line x1="619.6" y1="335.8" x2="619.6" y2="390.8" stroke="#f08890" stroke-width="0.75"/>
<rect x="617.4" y="359.4" width="4.7" height="13.9" fill="#fde7e7" stroke="#eda0a4" stroke-width="0.9"/>
<line x1="617.4" y1="366.7" x2="622.1" y2="366.7" stroke="#eda0a4" stroke-width="1"/>
<path d="M647.35 313 L647.45 313 C647.45 315 647.32 321.4 647.45 325 C647.58 328.6 648.06 331.78 648.25 334.6 C648.44 337.42 648.23 339.47 648.61 341.9 C648.99 344.33 649.71 346.77 650.55 349.2 C651.39 351.63 652.58 354.07 653.65 356.5 C654.72 358.93 656.27 361.85 656.95 363.8 C657.63 365.75 657.9 366.5 657.75 368.2 C657.6 369.9 656.72 372.3 656.05 374 C655.38 375.7 654.73 376.45 653.75 378.4 C652.77 380.35 651.07 383.27 650.15 385.7 C649.23 388.13 648.67 390.87 648.25 393 C647.83 395.13 647.75 397.58 647.65 398.5 L647.15 398.5 C647.05 397.58 646.97 395.13 646.55 393 C646.13 390.87 645.57 388.13 644.65 385.7 C643.73 383.27 642.03 380.35 641.05 378.4 C640.07 376.45 639.42 375.7 638.75 374 C638.08 372.3 637.2 369.9 637.05 368.2 C636.9 366.5 637.17 365.75 637.85 363.8 C638.53 361.85 640.08 358.93 641.15 356.5 C642.22 354.07 643.41 351.63 644.25 349.2 C645.09 346.77 645.81 344.33 646.19 341.9 C646.57 339.47 646.36 337.42 646.55 334.6 C646.74 331.78 647.22 328.6 647.35 325 C647.48 321.4 647.35 315 647.35 313 Z" fill="#e8b1b5" stroke="#b0444c" stroke-width="0.85" stroke-linejoin="round"/>
<line x1="647.4" y1="313" x2="647.4" y2="398.5" stroke="#8e1018" stroke-width="0.75"/>
<rect x="645.2" y="360.9" width="4.8" height="13.1" fill="#f5dfe1" stroke="#a4303c" stroke-width="0.9"/>
<line x1="645.2" y1="368.2" x2="650" y2="368.2" stroke="#a4303c" stroke-width="1"/>
<line x1="509.9" y1="264.6" x2="591.9" y2="264.6" stroke="#111111" stroke-width="1.5"/>
<text x="526.7" y="262.8" font-size="8.7" stroke="#111" stroke-width="0.2" textLength="52.5" lengthAdjust="spacingAndGlyphs">pFDR=0.114</text>
<text x="506" y="277.7" font-size="8.7" font-weight="bold" stroke="#111" stroke-width="0.35" textLength="53.6" lengthAdjust="spacingAndGlyphs">pFDR=0.005</text>
<line x1="510.5" y1="279.6" x2="549.3" y2="279.6" stroke="#111111" stroke-width="1.5"/>
<text x="607.8" y="306.9" font-size="8.7" stroke="#111" stroke-width="0.2" textLength="53.1" lengthAdjust="spacingAndGlyphs">pFDR=0.553</text>
<line x1="619" y1="308.8" x2="647" y2="308.8" stroke="#111111" stroke-width="1.5"/>
<line x1="551.3" y1="418" x2="591.8" y2="418" stroke="#111111" stroke-width="1.5"/>
<text x="546.9" y="432.8" font-size="8.7" font-weight="bold" stroke="#111" stroke-width="0.35" textLength="52.6" lengthAdjust="spacingAndGlyphs">pFDR=0.001</text>
<text x="0.3" y="521.9" font-size="22.7" font-weight="bold" text-anchor="start" stroke="#111" stroke-width="0.4">D</text>
<line x1="59.4" y1="536.1" x2="59.4" y2="697.2" stroke="#6a6a6a" stroke-width="1"/>
<line x1="58.9" y1="697.2" x2="309.2" y2="697.2" stroke="#8a8a8a" stroke-width="1"/>
<line x1="56.2" y1="543.1" x2="59.4" y2="543.1" stroke="#6a6a6a" stroke-width="0.9"/>
<text x="52.2" y="550.7" font-size="11.5" text-anchor="end" fill="#161616" stroke="#161616" stroke-width="0.15">16.0</text>
<line x1="56.2" y1="560.8" x2="59.4" y2="560.8" stroke="#6a6a6a" stroke-width="0.9"/>
<text x="52.2" y="568.4" font-size="11.5" text-anchor="end" fill="#161616" stroke="#161616" stroke-width="0.15">15.5</text>
<line x1="56.2" y1="578.5" x2="59.4" y2="578.5" stroke="#6a6a6a" stroke-width="0.9"/>
<text x="52.2" y="586.1" font-size="11.5" text-anchor="end" fill="#161616" stroke="#161616" stroke-width="0.15">15.0</text>
<line x1="56.2" y1="596.2" x2="59.4" y2="596.2" stroke="#6a6a6a" stroke-width="0.9"/>
<text x="52.2" y="603.8" font-size="11.5" text-anchor="end" fill="#161616" stroke="#161616" stroke-width="0.15">14.5</text>
<line x1="56.2" y1="613.9" x2="59.4" y2="613.9" stroke="#6a6a6a" stroke-width="0.9"/>
<text x="52.2" y="621.5" font-size="11.5" text-anchor="end" fill="#161616" stroke="#161616" stroke-width="0.15">14.0</text>
<line x1="56.2" y1="631.6" x2="59.4" y2="631.6" stroke="#6a6a6a" stroke-width="0.9"/>
<text x="52.2" y="639.2" font-size="11.5" text-anchor="end" fill="#161616" stroke="#161616" stroke-width="0.15">13.5</text>
<line x1="56.2" y1="649.3" x2="59.4" y2="649.3" stroke="#6a6a6a" stroke-width="0.9"/>
<text x="52.2" y="656.9" font-size="11.5" text-anchor="end" fill="#161616" stroke="#161616" stroke-width="0.15">13.0</text>
<line x1="56.2" y1="667" x2="59.4" y2="667" stroke="#6a6a6a" stroke-width="0.9"/>
<text x="52.2" y="674.6" font-size="11.5" text-anchor="end" fill="#161616" stroke="#161616" stroke-width="0.15">12.5</text>
<line x1="56.2" y1="684.7" x2="59.4" y2="684.7" stroke="#6a6a6a" stroke-width="0.9"/>
<text x="52.2" y="692.3" font-size="11.5" text-anchor="end" fill="#161616" stroke="#161616" stroke-width="0.15">12.0</text>
<line x1="95.5" y1="697.2" x2="95.5" y2="700" stroke="#6a6a6a" stroke-width="0.9"/>
<line x1="136.4" y1="697.2" x2="136.4" y2="700" stroke="#6a6a6a" stroke-width="0.9"/>
<line x1="177.4" y1="697.2" x2="177.4" y2="700" stroke="#6a6a6a" stroke-width="0.9"/>
<line x1="218.6" y1="697.2" x2="218.6" y2="700" stroke="#6a6a6a" stroke-width="0.9"/>
<line x1="246.1" y1="697.2" x2="246.1" y2="700" stroke="#6a6a6a" stroke-width="0.9"/>
<line x1="273.6" y1="697.2" x2="273.6" y2="700" stroke="#6a6a6a" stroke-width="0.9"/>
<text x="100.9" y="706.5" font-size="9.1" font-weight="bold" stroke="#111" stroke-width="0.4" text-anchor="end" transform="rotate(-40 100.9 706.5)">NAWM</text>
<text x="141.8" y="706.5" font-size="9.1" font-weight="bold" stroke="#111" stroke-width="0.4" text-anchor="end" transform="rotate(-40 141.8 706.5)">SWI-isointense</text>
<text x="182.8" y="706.5" font-size="9.1" font-weight="bold" stroke="#111" stroke-width="0.4" text-anchor="end" transform="rotate(-40 182.8 706.5)">Core-sign</text>
<text x="224" y="706.5" font-size="9.1" font-weight="bold" stroke="#111" stroke-width="0.4" text-anchor="end" transform="rotate(-40 224 706.5)">All PRL</text>
<text x="251.5" y="706.5" font-size="9.1" font-weight="bold" stroke="#111" stroke-width="0.4" text-anchor="end" transform="rotate(-40 251.5 706.5)">PRL rim</text>
<text x="279" y="706.5" font-size="9.1" font-weight="bold" stroke="#111" stroke-width="0.4" text-anchor="end" transform="rotate(-40 279 706.5)">PRL core</text>
<text transform="translate(18 613.7) rotate(-90)" font-size="14.5" font-weight="bold" stroke="#111" stroke-width="0.3">r</text>
<text transform="translate(23.2 608) rotate(-90)" font-size="11" font-weight="bold" stroke="#111" stroke-width="0.25" textLength="24.7" lengthAdjust="spacingAndGlyphs">soma</text>
<path d="M92.15 615.3 L98.25 615.3 C98.3 615.83 98.4 617.58 98.55 618.5 C98.7 619.42 98.62 620.13 99.15 620.8 C99.68 621.47 100.52 621.78 101.75 622.5 C102.98 623.22 104.88 624.22 106.55 625.1 C108.22 625.98 110.05 626.92 111.75 627.8 C113.45 628.68 115.47 629.6 116.75 630.4 C118.03 631.2 119.53 631.87 119.45 632.6 C119.37 633.33 118.1 634 116.25 634.8 C114.4 635.6 110.7 636.53 108.35 637.4 C106 638.27 103.77 639.2 102.15 640 C100.53 640.8 99.23 641.83 98.65 642.2 L91.75 642.2 C91.17 641.83 89.87 640.8 88.25 640 C86.63 639.2 84.4 638.27 82.05 637.4 C79.7 636.53 76 635.6 74.15 634.8 C72.3 634 71.03 633.33 70.95 632.6 C70.87 631.87 72.37 631.2 73.65 630.4 C74.93 629.6 76.95 628.68 78.65 627.8 C80.35 626.92 82.18 625.98 83.85 625.1 C85.52 624.22 87.42 623.22 88.65 622.5 C89.88 621.78 90.72 621.47 91.25 620.8 C91.78 620.13 91.7 619.42 91.85 618.5 C92 617.58 92.1 615.83 92.15 615.3 Z" fill="#fdd9a9" stroke="#e6ab4e" stroke-width="0.85" stroke-linejoin="round"/>
<line x1="95.2" y1="615.3" x2="95.2" y2="642.2" stroke="#eab866" stroke-width="0.75"/>
<rect x="92.6" y="627.4" width="5.7" height="6.6" fill="#fdf0da" stroke="#e6b262" stroke-width="0.9"/>
<line x1="92.6" y1="630.8" x2="98.3" y2="630.8" stroke="#e6b262" stroke-width="1"/>
<path d="M136.35 543.3 L136.45 543.3 C136.45 544.75 136.42 549.1 136.45 552 C136.48 554.9 136.42 557.53 136.65 560.7 C136.88 563.87 137.35 567.55 137.85 571 C138.35 574.45 139.1 577.93 139.65 581.4 C140.2 584.87 140.7 588.35 141.15 591.8 C141.6 595.25 142.08 599 142.35 602.1 C142.62 605.2 142.82 607.63 142.75 610.4 C142.68 613.17 142.3 615.93 141.95 618.7 C141.6 621.47 141.08 624.25 140.65 627 C140.22 629.75 139.72 632.45 139.35 635.2 C138.98 637.95 138.82 640.73 138.45 643.5 C138.08 646.27 137.46 649.03 137.13 651.8 C136.8 654.57 136.56 653.72 136.45 660.1 C136.34 666.48 136.45 685.1 136.45 690.1 L136.35 690.1 C136.35 685.1 136.46 666.48 136.35 660.1 C136.24 653.72 136 654.57 135.67 651.8 C135.34 649.03 134.72 646.27 134.35 643.5 C133.98 640.73 133.82 637.95 133.45 635.2 C133.08 632.45 132.58 629.75 132.15 627 C131.72 624.25 131.2 621.47 130.85 618.7 C130.5 615.93 130.12 613.17 130.05 610.4 C129.98 607.63 130.18 605.2 130.45 602.1 C130.72 599 131.2 595.25 131.65 591.8 C132.1 588.35 132.6 584.87 133.15 581.4 C133.7 577.93 134.45 574.45 134.95 571 C135.45 567.55 135.92 563.87 136.15 560.7 C136.38 557.53 136.32 554.9 136.35 552 C136.38 549.1 136.35 544.75 136.35 543.3 Z" fill="#adbff0" stroke="#3050b0" stroke-width="0.85" stroke-linejoin="round"/>
<line x1="136.4" y1="543.3" x2="136.4" y2="690.1" stroke="#2644a0" stroke-width="0.75"/>
<rect x="133.6" y="598.3" width="5.9" height="23.5" fill="#dce3f7" stroke="#6a86d6" stroke-width="0.9"/>
<line x1="133.6" y1="610.7" x2="139.5" y2="610.7" stroke="#6a86d6" stroke-width="1"/>
<path d="M176.55 585.4 L178.25 585.4 C178.39 586.17 178.77 588.42 179.09 590 C179.41 591.58 179.79 593.23 180.15 594.9 C180.51 596.57 180.9 598.42 181.25 600 C181.6 601.58 181.93 602.9 182.25 604.4 C182.57 605.9 182.88 607.42 183.15 609 C183.42 610.58 183.68 612.23 183.85 613.9 C184.02 615.57 184.13 617.42 184.15 619 C184.17 620.58 184.15 621.82 183.95 623.4 C183.75 624.98 183.4 626.4 182.95 628.5 C182.5 630.6 181.68 633.75 181.25 636 C180.82 638.25 180.6 640.1 180.35 642 C180.1 643.9 180.04 644.9 179.75 647.4 C179.46 649.9 178.9 654.07 178.61 657 C178.32 659.93 178.17 662.17 178.01 665 C177.85 667.83 177.71 672.5 177.65 674 L177.15 674 C177.09 672.5 176.95 667.83 176.79 665 C176.63 662.17 176.48 659.93 176.19 657 C175.9 654.07 175.34 649.9 175.05 647.4 C174.76 644.9 174.7 643.9 174.45 642 C174.2 640.1 173.98 638.25 173.55 636 C173.12 633.75 172.3 630.6 171.85 628.5 C171.4 626.4 171.05 624.98 170.85 623.4 C170.65 621.82 170.63 620.58 170.65 619 C170.67 617.42 170.78 615.57 170.95 613.9 C171.12 612.23 171.38 610.58 171.65 609 C171.92 607.42 172.23 605.9 172.55 604.4 C172.87 602.9 173.2 601.58 173.55 600 C173.9 598.42 174.29 596.57 174.65 594.9 C175.01 593.23 175.39 591.58 175.71 590 C176.03 588.42 176.41 586.17 176.55 585.4 Z" fill="#f3aaf8" stroke="#b038c4" stroke-width="0.85" stroke-linejoin="round"/>
<line x1="177.4" y1="585.4" x2="177.4" y2="674" stroke="#c444d6" stroke-width="0.75"/>
<rect x="175" y="608.6" width="5.1" height="24.6" fill="#f9dafb" stroke="#c860d8" stroke-width="0.9"/>
<line x1="175" y1="619.1" x2="180.1" y2="619.1" stroke="#c860d8" stroke-width="1"/>
<path d="M218.11 565.7 L219.09 565.7 C219.37 567.43 220.02 572.93 220.75 576.1 C221.48 579.27 222.62 582 223.45 584.7 C224.28 587.4 225.08 589.97 225.75 592.3 C226.42 594.63 227.33 596.57 227.45 598.7 C227.57 600.83 227.08 603.3 226.45 605.1 C225.82 606.9 224.33 608.17 223.65 609.5 C222.97 610.83 222.87 611.52 222.35 613.1 C221.83 614.68 220.91 617.65 220.53 619 C220.15 620.35 220.23 619.62 220.05 621.2 C219.87 622.78 219.65 623.2 219.45 628.5 C219.25 633.8 218.95 648.92 218.85 653 L218.35 653 C218.25 648.92 217.95 633.8 217.75 628.5 C217.55 623.2 217.33 622.78 217.15 621.2 C216.97 619.62 217.05 620.35 216.67 619 C216.29 617.65 215.37 614.68 214.85 613.1 C214.33 611.52 214.23 610.83 213.55 609.5 C212.87 608.17 211.38 606.9 210.75 605.1 C210.12 603.3 209.63 600.83 209.75 598.7 C209.87 596.57 210.78 594.63 211.45 592.3 C212.12 589.97 212.92 587.4 213.75 584.7 C214.58 582 215.72 579.27 216.45 576.1 C217.18 572.93 217.83 567.43 218.11 565.7 Z" fill="#fca9ab" stroke="#d63f49" stroke-width="0.85" stroke-linejoin="round"/>
<line x1="218.6" y1="565.7" x2="218.6" y2="653" stroke="#dc1c2a" stroke-width="0.75"/>
<rect x="216.3" y="588.7" width="5.1" height="18.4" fill="#fdd9da" stroke="#b82a36" stroke-width="0.9"/>
<line x1="216.3" y1="598.4" x2="221.4" y2="598.4" stroke="#b82a36" stroke-width="1"/>
<path d="M245.61 569.5 L246.59 569.5 C246.65 570.62 246.37 573.75 246.95 576.2 C247.53 578.65 249 581.52 250.05 584.2 C251.1 586.88 252.38 589.62 253.25 592.3 C254.12 594.98 255.08 597.63 255.25 600.3 C255.42 602.97 254.68 606.35 254.25 608.3 C253.82 610.25 253.25 610.65 252.65 612 C252.05 613.35 251.23 615.07 250.65 616.4 C250.07 617.73 249.71 618.4 249.15 620 C248.59 621.6 247.72 623.65 247.31 626 C246.9 628.35 246.9 629.13 246.71 634.1 C246.52 639.07 246.24 652.18 246.15 655.8 L246.05 655.8 C245.96 652.18 245.68 639.07 245.49 634.1 C245.3 629.13 245.3 628.35 244.89 626 C244.48 623.65 243.61 621.6 243.05 620 C242.49 618.4 242.13 617.73 241.55 616.4 C240.97 615.07 240.15 613.35 239.55 612 C238.95 610.65 238.38 610.25 237.95 608.3 C237.52 606.35 236.78 602.97 236.95 600.3 C237.12 597.63 238.08 594.98 238.95 592.3 C239.82 589.62 241.1 586.88 242.15 584.2 C243.2 581.52 244.67 578.65 245.25 576.2 C245.83 573.75 245.55 570.62 245.61 569.5 Z" fill="#fdd0d0" stroke="#ee9094" stroke-width="0.85" stroke-linejoin="round"/>
<line x1="246.1" y1="569.5" x2="246.1" y2="655.8" stroke="#f08890" stroke-width="0.75"/>
<rect x="243.7" y="592.3" width="4.8" height="16.5" fill="#fde7e7" stroke="#eda0a4" stroke-width="0.9"/>
<line x1="243.7" y1="601.6" x2="248.5" y2="601.6" stroke="#eda0a4" stroke-width="1"/>
<path d="M273.35 559.3 L273.85 559.3 C274.09 560.78 274.74 565.38 275.29 568.2 C275.84 571.02 276.46 573.53 277.15 576.2 C277.84 578.87 278.75 581.52 279.45 584.2 C280.15 586.88 280.95 590.15 281.35 592.3 C281.75 594.45 282.02 594.97 281.85 597.1 C281.68 599.23 281 602.95 280.35 605.1 C279.7 607.25 278.4 608.67 277.95 610 C277.5 611.33 278.02 611.77 277.65 613.1 C277.28 614.43 276.12 616.65 275.75 618 C275.38 619.35 275.63 619.87 275.41 621.2 C275.19 622.53 274.67 623.85 274.45 626 C274.23 628.15 274.19 630.82 274.09 634.1 C273.99 637.38 273.89 643.77 273.85 645.7 L273.35 645.7 C273.31 643.77 273.21 637.38 273.11 634.1 C273.01 630.82 272.97 628.15 272.75 626 C272.53 623.85 272.01 622.53 271.79 621.2 C271.57 619.87 271.82 619.35 271.45 618 C271.08 616.65 269.92 614.43 269.55 613.1 C269.18 611.77 269.7 611.33 269.25 610 C268.8 608.67 267.5 607.25 266.85 605.1 C266.2 602.95 265.52 599.23 265.35 597.1 C265.18 594.97 265.45 594.45 265.85 592.3 C266.25 590.15 267.05 586.88 267.75 584.2 C268.45 581.52 269.36 578.87 270.05 576.2 C270.74 573.53 271.36 571.02 271.91 568.2 C272.46 565.38 273.11 560.78 273.35 559.3 Z" fill="#e8b1b5" stroke="#b0444c" stroke-width="0.85" stroke-linejoin="round"/>
<line x1="273.6" y1="559.3" x2="273.6" y2="645.7" stroke="#8e1018" stroke-width="0.75"/>
<rect x="271.1" y="585" width="4.9" height="19" fill="#f5dfe1" stroke="#a4303c" stroke-width="0.9"/>
<line x1="271.1" y1="595" x2="276" y2="595" stroke="#a4303c" stroke-width="1"/>
<line x1="136.1" y1="527.6" x2="218.6" y2="527.6" stroke="#111111" stroke-width="1.5"/>
<text x="153.5" y="524.7" font-size="8.7" font-weight="bold" stroke="#111" stroke-width="0.35" textLength="52.8" lengthAdjust="spacingAndGlyphs">pFDR&lt;0.001</text>
<text x="131.9" y="537.6" font-size="8.7" font-weight="bold" stroke="#111" stroke-width="0.35" textLength="52.9" lengthAdjust="spacingAndGlyphs">pFDR&lt;0.001</text>
<line x1="136.1" y1="540.4" x2="177.2" y2="540.4" stroke="#111111" stroke-width="1.5"/>
<text x="235.7" y="553.4" font-size="8.7" font-weight="bold" stroke="#111" stroke-width="0.35" textLength="52.6" lengthAdjust="spacingAndGlyphs">pFDR&lt;0.001</text>
<line x1="246.3" y1="555" x2="273.9" y2="555" stroke="#111111" stroke-width="1.5"/>
<line x1="177.4" y1="677.4" x2="218.6" y2="677.4" stroke="#111111" stroke-width="1.5"/>
<text x="173.1" y="692" font-size="8.7" font-weight="bold" stroke="#111" stroke-width="0.35" textLength="52.5" lengthAdjust="spacingAndGlyphs">pFDR&lt;0.001</text>
<text x="369.4" y="521.9" font-size="22.7" font-weight="bold" text-anchor="start" stroke="#111" stroke-width="0.4">E</text>
<line x1="433.1" y1="536.1" x2="433.1" y2="697.2" stroke="#6a6a6a" stroke-width="1"/>
<line x1="432.6" y1="697.2" x2="683.2" y2="697.2" stroke="#8a8a8a" stroke-width="1"/>
<line x1="429.9" y1="543.7" x2="433.1" y2="543.7" stroke="#6a6a6a" stroke-width="0.9"/>
<text x="427.5" y="551.3" font-size="11.5" text-anchor="end" fill="#161616" stroke="#161616" stroke-width="0.15">0.8</text>
<line x1="429.9" y1="565.5" x2="433.1" y2="565.5" stroke="#6a6a6a" stroke-width="0.9"/>
<text x="427.5" y="573.1" font-size="11.5" text-anchor="end" fill="#161616" stroke="#161616" stroke-width="0.15">0.7</text>
<line x1="429.9" y1="587.3" x2="433.1" y2="587.3" stroke="#6a6a6a" stroke-width="0.9"/>
<text x="427.5" y="594.9" font-size="11.5" text-anchor="end" fill="#161616" stroke="#161616" stroke-width="0.15">0.6</text>
<line x1="429.9" y1="609.1" x2="433.1" y2="609.1" stroke="#6a6a6a" stroke-width="0.9"/>
<text x="427.5" y="616.7" font-size="11.5" text-anchor="end" fill="#161616" stroke="#161616" stroke-width="0.15">0.5</text>
<line x1="429.9" y1="630.9" x2="433.1" y2="630.9" stroke="#6a6a6a" stroke-width="0.9"/>
<text x="427.5" y="638.5" font-size="11.5" text-anchor="end" fill="#161616" stroke="#161616" stroke-width="0.15">0.4</text>
<line x1="429.9" y1="652.7" x2="433.1" y2="652.7" stroke="#6a6a6a" stroke-width="0.9"/>
<text x="427.5" y="660.3" font-size="11.5" text-anchor="end" fill="#161616" stroke="#161616" stroke-width="0.15">0.3</text>
<line x1="429.9" y1="674.5" x2="433.1" y2="674.5" stroke="#6a6a6a" stroke-width="0.9"/>
<text x="427.5" y="682.1" font-size="11.5" text-anchor="end" fill="#161616" stroke="#161616" stroke-width="0.15">0.2</text>
<line x1="429.9" y1="696.1" x2="433.1" y2="696.1" stroke="#6a6a6a" stroke-width="0.9"/>
<text x="427.5" y="703.7" font-size="11.5" text-anchor="end" fill="#161616" stroke="#161616" stroke-width="0.15">0.1</text>
<line x1="468.9" y1="697.2" x2="468.9" y2="700" stroke="#6a6a6a" stroke-width="0.9"/>
<line x1="510.5" y1="697.2" x2="510.5" y2="700" stroke="#6a6a6a" stroke-width="0.9"/>
<line x1="551.5" y1="697.2" x2="551.5" y2="700" stroke="#6a6a6a" stroke-width="0.9"/>
<line x1="592.4" y1="697.2" x2="592.4" y2="700" stroke="#6a6a6a" stroke-width="0.9"/>
<line x1="619.9" y1="697.2" x2="619.9" y2="700" stroke="#6a6a6a" stroke-width="0.9"/>
<line x1="647.4" y1="697.2" x2="647.4" y2="700" stroke="#6a6a6a" stroke-width="0.9"/>
<text x="474.3" y="706.5" font-size="9.1" font-weight="bold" stroke="#111" stroke-width="0.4" text-anchor="end" transform="rotate(-40 474.3 706.5)">NAWM</text>
<text x="515.9" y="706.5" font-size="9.1" font-weight="bold" stroke="#111" stroke-width="0.4" text-anchor="end" transform="rotate(-40 515.9 706.5)">SWI-isointense</text>
<text x="556.9" y="706.5" font-size="9.1" font-weight="bold" stroke="#111" stroke-width="0.4" text-anchor="end" transform="rotate(-40 556.9 706.5)">Core-sign</text>
<text x="597.8" y="706.5" font-size="9.1" font-weight="bold" stroke="#111" stroke-width="0.4" text-anchor="end" transform="rotate(-40 597.8 706.5)">All PRL</text>
<text x="625.3" y="706.5" font-size="9.1" font-weight="bold" stroke="#111" stroke-width="0.4" text-anchor="end" transform="rotate(-40 625.3 706.5)">PRL rim</text>
<text x="652.8" y="706.5" font-size="9.1" font-weight="bold" stroke="#111" stroke-width="0.4" text-anchor="end" transform="rotate(-40 652.8 706.5)">PRL core</text>
<text transform="translate(391.9 614) rotate(-90)" font-size="14.5" font-weight="bold" stroke="#111" stroke-width="0.3">f</text>
<text transform="translate(396.1 608) rotate(-90)" font-size="11" font-weight="bold" stroke="#111" stroke-width="0.25" textLength="24" lengthAdjust="spacingAndGlyphs">Extra</text>
<path d="M460.15 630.3 L477.65 630.3 C477.95 630.5 478.8 631.03 479.45 631.5 C480.1 631.97 480.75 632.38 481.55 633.1 C482.35 633.82 483.08 634.92 484.25 635.8 C485.42 636.68 487.28 637.53 488.55 638.4 C489.82 639.27 491.08 640.2 491.85 641 C492.62 641.8 493.15 642.47 493.15 643.2 C493.15 643.93 492.75 644.6 491.85 645.4 C490.95 646.2 489.38 647.13 487.75 648 C486.12 648.87 483.88 649.8 482.05 650.6 C480.22 651.4 478.02 652.28 476.75 652.8 C475.48 653.32 474.83 653.55 474.45 653.7 L463.35 653.7 C462.97 653.55 462.32 653.32 461.05 652.8 C459.78 652.28 457.58 651.4 455.75 650.6 C453.92 649.8 451.68 648.87 450.05 648 C448.42 647.13 446.85 646.2 445.95 645.4 C445.05 644.6 444.65 643.93 444.65 643.2 C444.65 642.47 445.18 641.8 445.95 641 C446.72 640.2 447.98 639.27 449.25 638.4 C450.52 637.53 452.38 636.68 453.55 635.8 C454.72 634.92 455.45 633.82 456.25 633.1 C457.05 632.38 457.7 631.97 458.35 631.5 C459 631.03 459.85 630.5 460.15 630.3 Z" fill="#fdd9a9" stroke="#e6ab4e" stroke-width="0.85" stroke-linejoin="round"/>
<line x1="468.9" y1="630.3" x2="468.9" y2="653.7" stroke="#eab866" stroke-width="0.75"/>
<rect x="466.3" y="637.3" width="5.2" height="8.8" fill="#fdf0da" stroke="#e6b262" stroke-width="0.9"/>
<line x1="466.3" y1="642.1" x2="471.5" y2="642.1" stroke="#e6b262" stroke-width="1"/>
<path d="M510.45 543.3 L510.55 543.3 C510.55 544.75 510.46 548.98 510.55 552 C510.64 555.02 510.8 558.07 511.11 561.4 C511.42 564.73 512.01 568.43 512.43 572 C512.85 575.57 513.26 579.22 513.65 582.8 C514.04 586.38 514.45 589.97 514.75 593.5 C515.05 597.03 515.22 600.43 515.45 604 C515.68 607.57 515.95 611.3 516.15 614.9 C516.35 618.5 516.6 622.03 516.65 625.6 C516.7 629.17 516.67 632.73 516.45 636.3 C516.23 639.87 515.82 643.45 515.35 647 C514.88 650.55 514.2 654.05 513.65 657.6 C513.1 661.15 512.55 664.73 512.07 668.3 C511.59 671.87 511 675.35 510.75 679 C510.5 682.65 510.58 688.33 510.55 690.2 L510.45 690.2 C510.42 688.33 510.5 682.65 510.25 679 C510 675.35 509.41 671.87 508.93 668.3 C508.45 664.73 507.9 661.15 507.35 657.6 C506.8 654.05 506.12 650.55 505.65 647 C505.18 643.45 504.77 639.87 504.55 636.3 C504.33 632.73 504.3 629.17 504.35 625.6 C504.4 622.03 504.65 618.5 504.85 614.9 C505.05 611.3 505.32 607.57 505.55 604 C505.78 600.43 505.95 597.03 506.25 593.5 C506.55 589.97 506.96 586.38 507.35 582.8 C507.74 579.22 508.15 575.57 508.57 572 C508.99 568.43 509.58 564.73 509.89 561.4 C510.2 558.07 510.36 555.02 510.45 552 C510.54 548.98 510.45 544.75 510.45 543.3 Z" fill="#adbff0" stroke="#3050b0" stroke-width="0.85" stroke-linejoin="round"/>
<line x1="510.5" y1="543.3" x2="510.5" y2="690.2" stroke="#2644a0" stroke-width="0.75"/>
<rect x="507.6" y="606.7" width="5.7" height="35.5" fill="#dce3f7" stroke="#6a86d6" stroke-width="0.9"/>
<line x1="507.6" y1="626.1" x2="513.3" y2="626.1" stroke="#6a86d6" stroke-width="1"/>
<path d="M551.25 586 L551.55 586 C551.59 587.23 551.63 591.07 551.77 593.4 C551.91 595.73 552.29 597.78 552.37 600 C552.45 602.22 552.13 604.47 552.25 606.7 C552.37 608.93 552.66 611.18 553.09 613.4 C553.52 615.62 554.12 617.78 554.85 620 C555.58 622.22 556.52 624.47 557.45 626.7 C558.38 628.93 559.65 631.18 560.45 633.4 C561.25 635.62 561.82 637.77 562.25 640 C562.68 642.23 562.98 645 563.05 646.8 C563.12 648.6 563.08 649.47 562.65 650.8 C562.22 652.13 561.4 653.25 560.45 654.8 C559.5 656.35 557.98 658.1 556.95 660.1 C555.92 662.1 554.83 664.73 554.25 666.8 C553.67 668.87 553.58 671.55 553.45 672.5 L549.35 672.5 C549.22 671.55 549.13 668.87 548.55 666.8 C547.97 664.73 546.88 662.1 545.85 660.1 C544.82 658.1 543.3 656.35 542.35 654.8 C541.4 653.25 540.58 652.13 540.15 650.8 C539.72 649.47 539.68 648.6 539.75 646.8 C539.82 645 540.12 642.23 540.55 640 C540.98 637.77 541.55 635.62 542.35 633.4 C543.15 631.18 544.42 628.93 545.35 626.7 C546.28 624.47 547.22 622.22 547.95 620 C548.68 617.78 549.28 615.62 549.71 613.4 C550.14 611.18 550.43 608.93 550.55 606.7 C550.67 604.47 550.35 602.22 550.43 600 C550.51 597.78 550.89 595.73 551.03 593.4 C551.17 591.07 551.21 587.23 551.25 586 Z" fill="#f3aaf8" stroke="#b038c4" stroke-width="0.85" stroke-linejoin="round"/>
<line x1="551.4" y1="586" x2="551.4" y2="672.5" stroke="#c444d6" stroke-width="0.75"/>
<rect x="548.6" y="634.7" width="5.6" height="16.6" fill="#f9dafb" stroke="#c860d8" stroke-width="0.9"/>
<line x1="548.6" y1="642.9" x2="554.2" y2="642.9" stroke="#c860d8" stroke-width="1"/>
<path d="M590.59 575.6 L594.21 575.6 C594.32 577.07 594.51 581.72 594.85 584.4 C595.19 587.08 595.7 589.27 596.25 591.7 C596.8 594.13 597.47 596.55 598.15 599 C598.83 601.45 599.75 603.95 600.35 606.4 C600.95 608.85 601.7 611.25 601.75 613.7 C601.8 616.15 601.18 618.65 600.65 621.1 C600.12 623.55 599.23 625.95 598.55 628.4 C597.87 630.85 597.13 633.35 596.55 635.8 C595.97 638.25 595.54 640.67 595.05 643.1 C594.56 645.53 593.97 647.92 593.61 650.4 C593.25 652.88 593.01 656.73 592.89 658 L591.91 658 C591.79 656.73 591.55 652.88 591.19 650.4 C590.83 647.92 590.24 645.53 589.75 643.1 C589.26 640.67 588.83 638.25 588.25 635.8 C587.67 633.35 586.93 630.85 586.25 628.4 C585.57 625.95 584.68 623.55 584.15 621.1 C583.62 618.65 583 616.15 583.05 613.7 C583.1 611.25 583.85 608.85 584.45 606.4 C585.05 603.95 585.97 601.45 586.65 599 C587.33 596.55 588 594.13 588.55 591.7 C589.1 589.27 589.61 587.08 589.95 584.4 C590.29 581.72 590.48 577.07 590.59 575.6 Z" fill="#fca9ab" stroke="#d63f49" stroke-width="0.85" stroke-linejoin="round"/>
<line x1="592.4" y1="575.6" x2="592.4" y2="658" stroke="#dc1c2a" stroke-width="0.75"/>
<rect x="590.3" y="603" width="4.9" height="22.6" fill="#fdd9da" stroke="#b82a36" stroke-width="0.9"/>
<line x1="590.3" y1="614.4" x2="595.2" y2="614.4" stroke="#b82a36" stroke-width="1"/>
<path d="M617.87 582 L621.73 582 C621.73 582.83 621.66 585.38 621.73 587 C621.8 588.62 621.7 589.7 622.15 591.7 C622.6 593.7 623.55 596.55 624.45 599 C625.35 601.45 626.68 603.95 627.55 606.4 C628.42 608.85 629.15 611.25 629.65 613.7 C630.15 616.15 630.77 618.65 630.55 621.1 C630.33 623.55 629.13 625.95 628.35 628.4 C627.57 630.85 626.65 633.35 625.85 635.8 C625.05 638.25 624.28 640.67 623.55 643.1 C622.82 645.53 622.07 647.67 621.49 650.4 C620.91 653.13 620.29 657.98 620.05 659.5 L619.55 659.5 C619.31 657.98 618.69 653.13 618.11 650.4 C617.53 647.67 616.78 645.53 616.05 643.1 C615.32 640.67 614.55 638.25 613.75 635.8 C612.95 633.35 612.03 630.85 611.25 628.4 C610.47 625.95 609.27 623.55 609.05 621.1 C608.83 618.65 609.45 616.15 609.95 613.7 C610.45 611.25 611.18 608.85 612.05 606.4 C612.92 603.95 614.25 601.45 615.15 599 C616.05 596.55 617 593.7 617.45 591.7 C617.9 589.7 617.8 588.62 617.87 587 C617.94 585.38 617.87 582.83 617.87 582 Z" fill="#fdd0d0" stroke="#ee9094" stroke-width="0.85" stroke-linejoin="round"/>
<line x1="619.8" y1="582" x2="619.8" y2="659.5" stroke="#f08890" stroke-width="0.75"/>
<rect x="617.2" y="608.4" width="5.3" height="21" fill="#fde7e7" stroke="#eda0a4" stroke-width="0.9"/>
<line x1="617.2" y1="618" x2="622.5" y2="618" stroke="#eda0a4" stroke-width="1"/>
<path d="M647.15 564.5 L647.65 564.5 C647.91 566.02 648.69 570.8 649.21 573.6 C649.73 576.4 650.21 578.73 650.75 581.3 C651.29 583.87 651.97 586.45 652.45 589 C652.93 591.55 653.35 594.05 653.65 596.6 C653.95 599.15 654.12 601.73 654.25 604.3 C654.38 606.87 654.48 609.45 654.45 612 C654.42 614.55 654.3 617.6 654.05 619.6 C653.8 621.6 653.33 621.93 652.95 624 C652.57 626.07 652.18 629.33 651.75 632 C651.32 634.67 650.83 637.33 650.35 640 C649.87 642.67 649.26 645.28 648.85 648 C648.44 650.72 648.05 654.92 647.89 656.3 L646.91 656.3 C646.75 654.92 646.36 650.72 645.95 648 C645.54 645.28 644.93 642.67 644.45 640 C643.97 637.33 643.48 634.67 643.05 632 C642.62 629.33 642.23 626.07 641.85 624 C641.47 621.93 641 621.6 640.75 619.6 C640.5 617.6 640.38 614.55 640.35 612 C640.32 609.45 640.42 606.87 640.55 604.3 C640.68 601.73 640.85 599.15 641.15 596.6 C641.45 594.05 641.87 591.55 642.35 589 C642.83 586.45 643.51 583.87 644.05 581.3 C644.59 578.73 645.07 576.4 645.59 573.6 C646.11 570.8 646.89 566.02 647.15 564.5 Z" fill="#e8b1b5" stroke="#b0444c" stroke-width="0.85" stroke-linejoin="round"/>
<line x1="647.4" y1="564.5" x2="647.4" y2="656.3" stroke="#8e1018" stroke-width="0.75"/>
<rect x="645.1" y="592.8" width="5.1" height="28.4" fill="#f5dfe1" stroke="#a4303c" stroke-width="0.9"/>
<line x1="645.1" y1="606.6" x2="650.2" y2="606.6" stroke="#a4303c" stroke-width="1"/>
<text x="527.8" y="524.3" font-size="8.7" font-weight="bold" stroke="#111" stroke-width="0.35" textLength="52.4" lengthAdjust="spacingAndGlyphs">pFDR&lt;0.001</text>
<text x="506" y="538.3" font-size="8.7" font-weight="bold" stroke="#111" stroke-width="0.35" textLength="52.8" lengthAdjust="spacingAndGlyphs">pFDR&lt;0.001</text>
<line x1="510" y1="540.2" x2="551.7" y2="540.2" stroke="#111111" stroke-width="1.5"/>
<line x1="509.4" y1="548.8" x2="592" y2="548.8" stroke="#111111" stroke-width="1.5"/>
<text x="609.4" y="556.8" font-size="8.7" font-weight="bold" stroke="#111" stroke-width="0.35" textLength="52.9" lengthAdjust="spacingAndGlyphs">pFDR&lt;0.001</text>
<line x1="620.2" y1="558.3" x2="647.4" y2="558.3" stroke="#111111" stroke-width="1.5"/>
<line x1="551.2" y1="675.8" x2="592.4" y2="675.8" stroke="#111111" stroke-width="1.5"/>
<text x="547.5" y="690.2" font-size="8.7" font-weight="bold" stroke="#111" stroke-width="0.35" textLength="53.1" lengthAdjust="spacingAndGlyphs">pFDR&lt;0.001</text>
</svg>
</body></html>
